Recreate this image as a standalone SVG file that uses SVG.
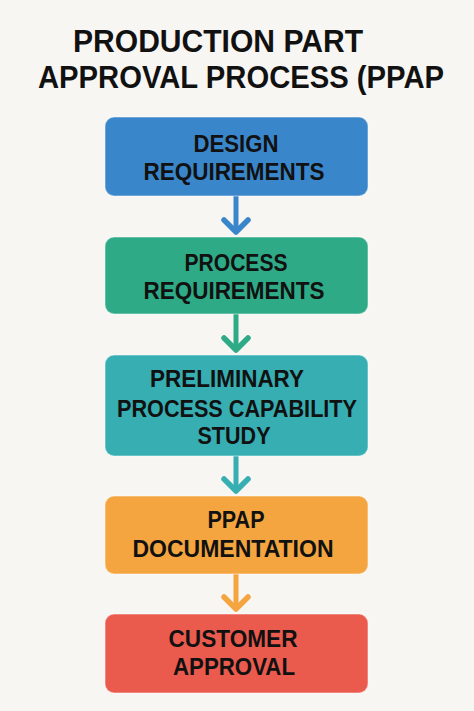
<svg xmlns="http://www.w3.org/2000/svg" width="474" height="711" viewBox="0 0 474 711">
<style>
.title{font-family:"Liberation Sans",Arial,sans-serif;font-weight:bold;font-size:31px;fill:#111}
.lbl{font-family:"Liberation Sans",Arial,sans-serif;font-weight:bold;font-size:23.5px;fill:#111;text-anchor:middle}
.box{stroke-width:1.5;stroke-opacity:0.35;stroke:#fff}
.shaft{stroke-width:5;fill:none}
.head{stroke-width:5.5;fill:none;stroke-linecap:round;stroke-linejoin:round}
</style>
<rect width="474" height="711" fill="#f8f6f3"/>
<g id="title">
<text class="title" x="73" y="52" textLength="290" lengthAdjust="spacingAndGlyphs">PRODUCTION PART</text>
<text class="title" x="38" y="88" textLength="406" lengthAdjust="spacingAndGlyphs">APPROVAL PROCESS (PPAP</text>
</g>
<g id="connectors">
<line class="shaft" x1="236" y1="196" x2="236" y2="232" stroke="#3a86cb"/>
<polyline class="head" points="224,220 236,232 248,220" stroke="#3a86cb"/>
<line class="shaft" x1="236" y1="314" x2="236" y2="350" stroke="#2eaa86"/>
<polyline class="head" points="224,338 236,350 248,338" stroke="#2eaa86"/>
<line class="shaft" x1="236" y1="456" x2="236" y2="491" stroke="#36aeb2"/>
<polyline class="head" points="224,479 236,491 248,479" stroke="#36aeb2"/>
<line class="shaft" x1="236" y1="574" x2="236" y2="609" stroke="#f4a53f"/>
<polyline class="head" points="224,597 236,609 248,597" stroke="#f4a53f"/>
</g>
<g id="design">
<rect class="box" x="105" y="117" width="263" height="79" rx="9" fill="#3a86cb"/>
<text class="lbl" x="236" y="152" textLength="85" lengthAdjust="spacingAndGlyphs">DESIGN</text>
<text class="lbl" x="234" y="180" textLength="181" lengthAdjust="spacingAndGlyphs">REQUIREMENTS</text>
</g>
<g id="process">
<rect class="box" x="105" y="237" width="263" height="77" rx="9" fill="#2eaa86"/>
<text class="lbl" x="236" y="271" textLength="103" lengthAdjust="spacingAndGlyphs">PROCESS</text>
<text class="lbl" x="234" y="299" textLength="181" lengthAdjust="spacingAndGlyphs">REQUIREMENTS</text>
</g>
<g id="preliminary">
<rect class="box" x="105" y="355" width="263" height="101" rx="9" fill="#36aeb2"/>
<text class="lbl" x="227" y="387" textLength="154" lengthAdjust="spacingAndGlyphs">PRELIMINARY</text>
<text class="lbl" x="237" y="417" textLength="240" lengthAdjust="spacingAndGlyphs">PROCESS CAPABILITY</text>
<text class="lbl" x="234" y="444" textLength="73" lengthAdjust="spacingAndGlyphs">STUDY</text>
</g>
<g id="documentation">
<rect class="box" x="105" y="496" width="263" height="78" rx="9" fill="#f4a53f"/>
<text class="lbl" x="236" y="528" textLength="57" lengthAdjust="spacingAndGlyphs">PPAP</text>
<text class="lbl" x="233" y="557" textLength="201" lengthAdjust="spacingAndGlyphs">DOCUMENTATION</text>
</g>
<g id="approval">
<rect class="box" x="105" y="614" width="263" height="79" rx="9" fill="#ea5a4d"/>
<text class="lbl" x="233" y="647" textLength="129" lengthAdjust="spacingAndGlyphs">CUSTOMER</text>
<text class="lbl" x="234" y="675" textLength="122" lengthAdjust="spacingAndGlyphs">APPROVAL</text>
</g>
</svg>
